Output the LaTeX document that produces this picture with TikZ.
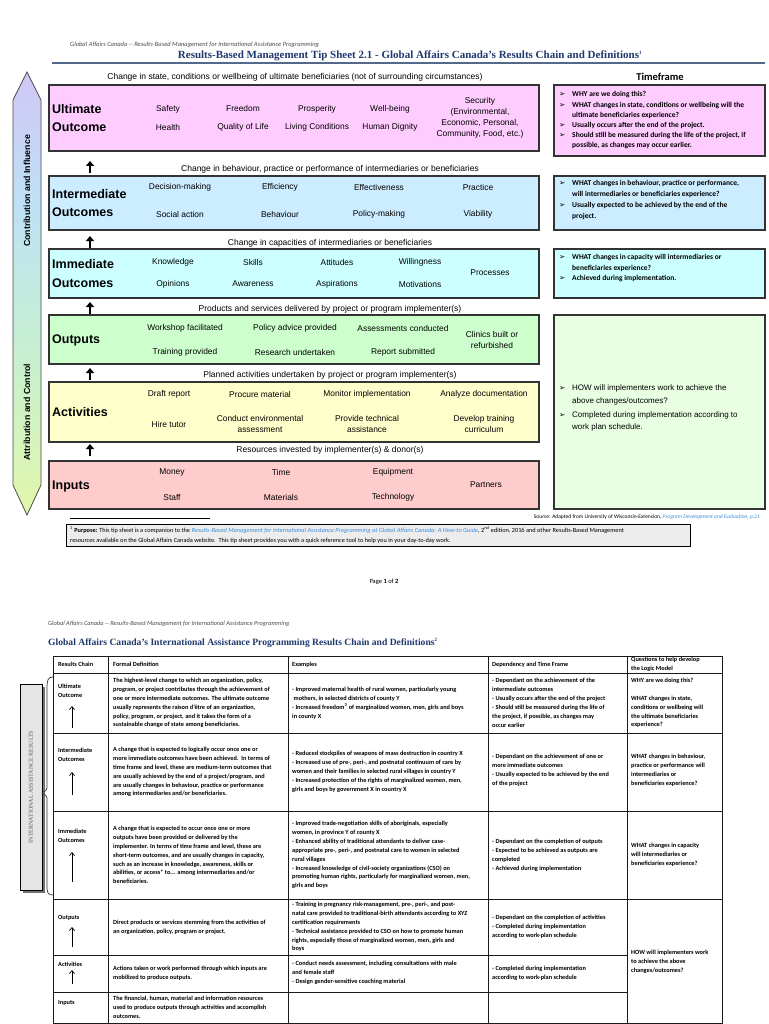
\documentclass[tikz,border=0pt]{standalone}
\usepackage{fontspec}
\setmainfont{Liberation Sans}
\newfontfamily\carlito{Carlito}
\newfontfamily\dejavu{DejaVu Sans}
\newfontfamily\titleserif{Liberation Serif}
\usetikzlibrary{arrows.meta}

\definecolor{ultpink}{RGB}{255,204,255}
\definecolor{interblue}{RGB}{204,236,255}
\definecolor{immcyan}{RGB}{204,255,255}
\definecolor{outgreen}{RGB}{204,255,204}
\definecolor{actyellow}{RGB}{255,255,204}
\definecolor{inpred}{RGB}{255,204,204}
\definecolor{howgreen}{RGB}{232,255,226}
\definecolor{titleblue}{RGB}{31,56,110}
\definecolor{rulecol}{RGB}{84,104,140}
\definecolor{linkblue}{RGB}{60,140,215}
\definecolor{shadeA}{RGB}{255,255,150}
\definecolor{shadeB}{RGB}{230,248,165}
\definecolor{shadeC}{RGB}{200,240,205}
\definecolor{shadeD}{RGB}{190,225,245}
\definecolor{shadeE}{RGB}{215,190,245}
\definecolor{shadeF}{RGB}{240,155,240}

\pgfdeclareverticalshading{chainshade}{100bp}{color(0bp)=(shadeA); color(22bp)=(shadeB); color(42bp)=(shadeC); color(60bp)=(shadeD); color(80bp)=(shadeE); color(100bp)=(shadeF)}

\newcommand{\bul}[1][13pt]{\makebox[#1][l]{\dejavu\fontsize{7.5}{7.5}\selectfont ➢}}
\newcommand{\hang}[1][13pt]{\hspace*{#1}}

\tikzset{
  chainbox/.style={draw=black!80, line width=1.1pt},
  boxlabel/.style={anchor=west, align=left, inner sep=0pt, font=\fontsize{12.5}{18}\selectfont\bfseries},
  item/.style={align=center, inner sep=0pt, font=\fontsize{8.4}{11.5}\selectfont},
  caption/.style={inner sep=0pt, font=\fontsize{8.5}{10}\selectfont},
  bigup/.style={-{Triangle[length=5pt,width=8pt]}, line width=2pt},
  timetext/.style={anchor=north west, align=left, inner sep=0pt, font=\carlito\bfseries\fontsize{7.5}{10.1}\selectfont},
  cell/.style={anchor=west, align=left, inner sep=0pt, font=\carlito\bfseries\fontsize{6.3}{8.9}\selectfont},
  tblline/.style={draw=black!90, line width=0.9pt},
  thinup/.style={-{Straight Barb[length=3pt,width=5pt]}, line width=0.7pt},
}

\begin{document}
\begin{tikzpicture}[x=1pt,y=-1pt]
    \fill[white] (0,0) rectangle (768,1024);
    \useasboundingbox (0,0) rectangle (768,1024);

    % page 1 header
    \node[anchor=west, inner sep=0pt, text=black!70, font=\carlito\itshape\fontsize{6.5}{7}\selectfont] (head1) at (70,45) {Global Affairs Canada -- Results-Based Management for International Assistance Programming};
    \node[inner sep=0pt, text=titleblue, font=\titleserif\bfseries\fontsize{11}{12}\selectfont] (title1) at (410,56) {Results-Based Management Tip Sheet 2.1 - Global Affairs Canada’s Results Chain and Definitions\textsuperscript{\fontsize{5}{5}\selectfont 1}};
    \draw[rulecol, line width=1.2pt] (52,63) -- (765,63);

    % side arrow
    \shade[shading=chainshade, draw=black!70, line width=0.8pt] (27,72) -- (41,100) -- (41,485) -- (27,515) -- (13,485) -- (13,100) -- cycle;
    \node[rotate=90, inner sep=0pt, font=\fontsize{8.8}{9}\selectfont\bfseries] (contrib) at (27,191) {Contribution and Influence};
    \node[rotate=90, inner sep=0pt, font=\fontsize{8.8}{9}\selectfont\bfseries] (attrib) at (27,412) {Attribution and Control};

    % ultimate outcome
    \node[caption] (cap1) at (295,77) {Change in state, conditions or wellbeing of ultimate beneficiaries (not of surrounding circumstances)};
    \draw[chainbox, fill=ultpink] (49,85) rectangle (539,151);
    \node[boxlabel] (ultlabel) at (52,118) {Ultimate\\Outcome};
    \node[item] (safety) at (168,109) {Safety};
    \node[item] (freedom) at (243,109) {Freedom};
    \node[item] (prosperity) at (317,109) {Prosperity};
    \node[item] (wellbeing) at (390,109) {Well-being};
    \node[item] (health) at (168,127) {Health};
    \node[item] (quality) at (243,127) {Quality of Life};
    \node[item] (living) at (317,127) {Living Conditions};
    \node[item] (dignity) at (390,127) {Human Dignity};
    \node[item, font=\fontsize{8.4}{10.8}\selectfont] (security) at (480,118) {Security\\(Environmental,\\Economic, Personal,\\Community, Food, etc.)};

    % intermediate outcomes
    \coordinate (up1s) at (90,173);
    \coordinate (up1e) at (90,161);
    \draw[bigup] (up1s) -- (up1e);
    \node[caption] (cap2) at (330,169) {Change in behaviour, practice or performance of intermediaries or beneficiaries};
    \draw[chainbox, fill=interblue] (49,176) rectangle (539,230);
    \node[boxlabel] (intlabel) at (52,203) {Intermediate\\Outcomes};
    \node[item] (decision) at (180,187) {Decision-making};
    \node[item] (efficiency) at (280,187) {Efficiency};
    \node[item] (effective) at (379,187) {Effectiveness};
    \node[item] (practice) at (478,187) {Practice};
    \node[item] (social) at (180,214) {Social action};
    \node[item] (behaviour) at (280,214) {Behaviour};
    \node[item] (policy) at (379,214) {Policy-making};
    \node[item] (viability) at (478,214) {Viability};

    % immediate outcomes
    \coordinate (up2s) at (90,248);
    \coordinate (up2e) at (90,236);
    \draw[bigup] (up2s) -- (up2e);
    \node[caption] (cap3) at (330,243) {Change in capacities of intermediaries or beneficiaries};
    \draw[chainbox, fill=immcyan] (49,249) rectangle (539,298);
    \node[boxlabel, font=\fontsize{12.5}{19.5}\selectfont\bfseries] (immlabel) at (52,273.5) {Immediate\\Outcomes};
    \node[item] (knowledge) at (173,262) {Knowledge};
    \node[item] (skills) at (253,262) {Skills};
    \node[item] (attitudes) at (337,262) {Attitudes};
    \node[item] (willing) at (420,262) {Willingness};
    \node[item] (opinions) at (173,284) {Opinions};
    \node[item] (awareness) at (253,284) {Awareness};
    \node[item] (aspirations) at (337,284) {Aspirations};
    \node[item] (motivations) at (420,284) {Motivations};
    \node[item] (processes) at (490,273) {Processes};

    % outputs
    \coordinate (up3s) at (90,314);
    \coordinate (up3e) at (90,302);
    \draw[bigup] (up3s) -- (up3e);
    \node[caption] (cap4) at (330,309) {Products and services delivered by project or program implementer(s)};
    \draw[chainbox, fill=outgreen] (49,315) rectangle (539,364);
    \node[boxlabel] (outlabel) at (52,340) {Outputs};
    \node[item] (workshop) at (185,328) {Workshop facilitated};
    \node[item] (advice) at (295,328) {Policy advice provided};
    \node[item] (assess) at (403,328) {Assessments conducted};
    \node[item] (training) at (185,352) {Training provided};
    \node[item] (research) at (295,352) {Research undertaken};
    \node[item] (report) at (403,352) {Report submitted};
    \node[item] (clinics) at (492,340) {Clinics built or\\refurbished};

    % activities
    \coordinate (up4s) at (90,380);
    \coordinate (up4e) at (90,368);
    \draw[bigup] (up4s) -- (up4e);
    \node[caption] (cap5) at (330,375) {Planned activities undertaken by project or program implementer(s)};
    \draw[chainbox, fill=actyellow] (49,382) rectangle (539,442);
    \node[boxlabel] (actlabel) at (52,412) {Activities};
    \node[item] (draft) at (169,394) {Draft report};
    \node[item] (procure) at (260,394) {Procure material};
    \node[item] (monitor) at (367,394) {Monitor implementation};
    \node[item] (analyze) at (484,394) {Analyze documentation};
    \node[item] (tutor) at (169,424) {Hire tutor};
    \node[item] (conduct) at (260,424) {Conduct environmental\\assessment};
    \node[item] (technical) at (367,424) {Provide technical\\assistance};
    \node[item] (develop) at (484,424) {Develop training\\curriculum};

    % inputs
    \coordinate (up5s) at (90,456);
    \coordinate (up5e) at (90,444);
    \draw[bigup] (up5s) -- (up5e);
    \node[caption] (cap6) at (330,450) {Resources invested by implementer(s) \& donor(s)};
    \draw[chainbox, fill=inpred] (49,461) rectangle (539,509);
    \node[boxlabel] (inplabel) at (52,486) {Inputs};
    \node[item] (money) at (172,472) {Money};
    \node[item] (time) at (281,472) {Time};
    \node[item] (equipment) at (393,472) {Equipment};
    \node[item] (staff) at (172,497) {Staff};
    \node[item] (materials) at (281,497) {Materials};
    \node[item] (technology) at (393,497) {Technology};
    \node[item] (partners) at (486,485) {Partners};

    % timeframe column
    \node[inner sep=0pt, font=\carlito\bfseries\fontsize{10.5}{11}\selectfont] (timehead) at (660,77) {Timeframe};
    \draw[chainbox, fill=ultpink] (554,85) rectangle (765,156);
    \node[timetext] (time1) at (559,91.5) {\bul WHY are we doing this?\\\bul WHAT changes in state, conditions or wellbeing will the\\\hang ultimate beneficiaries experience?\\\bul Usually occurs after the end of the project.\\\bul Should still be measured during the life of the project, if\\\hang possible, as changes may occur earlier.};
    \draw[chainbox, fill=interblue] (554,176) rectangle (765,230);
    \node[timetext, font=\carlito\bfseries\fontsize{7.5}{10.7}\selectfont] (time2) at (559,180.5) {\bul WHAT changes in behaviour, practice or performance,\\\hang will intermediaries or beneficiaries experience?\\\bul Usually expected to be achieved by the end of the\\\hang project.};
    \draw[chainbox, fill=immcyan] (554,249) rectangle (765,298);
    \node[timetext, font=\carlito\bfseries\fontsize{7.5}{10.5}\selectfont] (time3) at (559,254.5) {\bul WHAT changes in capacity will intermediaries or\\\hang beneficiaries experience?\\\bul Achieved during implementation.};
    \draw[chainbox, fill=howgreen] (554,315) rectangle (765,509);
    \node[timetext, font=\fontsize{8}{12.3}\selectfont] (time4) at (559,385) {\bul HOW will implementers work to achieve the\\\hang above changes/outcomes?\\[1.5pt]\bul Completed during implementation according to\\\hang work plan schedule.};

    % footnotes of page 1
    \draw[line width=0.6pt] (70,518) -- (210,518);
    \node[anchor=east, inner sep=0pt, font=\carlito\fontsize{5.5}{6}\selectfont] (source) at (760,517) {Source: Adapted from University of Wisconsin-Extension, \textcolor{linkblue}{\itshape Program Development and Evaluation, p.21}};
    \draw[fill=black!7, line width=0.8pt] (66,524) rectangle (690,546);
    \node[anchor=west, align=left, inner sep=0pt, font=\carlito\fontsize{6.3}{9.6}\selectfont] (purpose) at (70,535) {\textsuperscript{1} \textbf{Purpose:} This tip sheet is a companion to the \textcolor{linkblue}{\itshape Results-Based Management for International Assistance Programming at Global Affairs Canada: A How-to Guide}, 2\textsuperscript{nd} edition, 2016 and other Results-Based Management\\resources available on the Global Affairs Canada website.\ \ This tip sheet provides you with a quick reference tool to help you in your day-to-day work.};
    \node[inner sep=0pt, font=\carlito\fontsize{6.5}{7}\selectfont] (pagenum) at (384,582) {Page \textbf{1} of \textbf{2}};

    % page 2 header
    \node[anchor=west, inner sep=0pt, text=black!70, font=\carlito\itshape\fontsize{6.3}{7}\selectfont] (head2) at (48,624) {Global Affairs Canada -- Results-Based Management for International Assistance Programming};
    \node[anchor=west, inner sep=0pt, text=titleblue, font=\titleserif\bfseries\fontsize{9.6}{10}\selectfont] (title2) at (48,643) {Global Affairs Canada’s International Assistance Programming Results Chain and Definitions\textsuperscript{\fontsize{5}{5}\selectfont 2}};

    % side label and brace
    \fill[black!55] (22.5,686.5) rectangle (44.5,892.5);
    \draw[fill=black!10, line width=0.8pt] (20,684) rectangle (42,890);
    \node[rotate=90, inner sep=0pt, text=black!65, font=\titleserif\fontsize{6}{6}\selectfont] (intllabel) at (31,787) {INTERNATIONAL ASSISTANCE RESULTS};
    \draw[black!80, line width=0.7pt] (53,677) .. controls (48,677) and (47,680) .. (47,688) -- (47,785) .. controls (47,790) .. (42,793) .. controls (47,796) .. (47,801) -- (47,886) .. controls (47,893) and (48,895) .. (53,895);

    % table grid
    \draw[tblline] (53,656) rectangle (722,1023);
    \draw[tblline] (53,673) -- (722,673);
    \draw[tblline] (53,733) -- (722,733);
    \draw[tblline] (53,811) -- (722,811);
    \draw[tblline] (53,899) -- (722,899);
    \draw[tblline] (53,955) -- (627,955);
    \draw[tblline] (53,992) -- (627,992);
    \draw[tblline] (108,656) -- (108,1023);
    \draw[tblline] (288,656) -- (288,1023);
    \draw[tblline] (488,656) -- (488,1023);
    \draw[tblline] (627,656) -- (627,1023);

    % header row
    \node[cell] (hchain) at (58,664.5) {Results Chain};
    \node[cell] (hdef) at (113,664.5) {Formal Definition};
    \node[cell] (hex) at (292,664.5) {Examples};
    \node[cell] (hdep) at (492,664.5) {Dependency and Time Frame};
    \node[cell] (hq) at (631,664.5) {Questions to help develop\\the Logic Model};

    % results chain column
    \node[cell] (rcult) at (58,690.5) {Ultimate\\Outcome};
    \draw[thinup] (72,728) -- (72,706);
    \node[cell] (rcint) at (58,754.5) {Intermediate\\Outcomes};
    \draw[thinup] (72,795) -- (72,772);
    \node[cell] (rcimm) at (58,835.5) {Immediate\\Outcomes};
    \draw[thinup] (72,882) -- (72,852);
    \node[cell] (rcout) at (58,918) {Outputs};
    \draw[thinup] (72,947) -- (72,927);
    \node[cell] (rcact) at (58,964) {Activities};
    \draw[thinup] (72,984) -- (72,970);
    \node[cell] (rcinp) at (58,1003) {Inputs};

    % formal definitions
    \node[cell] (defult) at (113,703) {The highest-level change to which an organization, policy,\\program, or project contributes through the achievement of\\one or more intermediate outcomes. The ultimate outcome\\usually represents the raison d’être of an organization,\\policy, program, or project, and it takes the form of a\\sustainable change of state among beneficiaries.};
    \node[cell] (defint) at (113,772) {A change that is expected to logically occur once one or\\more immediate outcomes have been achieved.\ \ In terms of\\time frame and level, these are medium-term outcomes that\\are usually achieved by the end of a project/program, and\\are usually changes in behaviour, practice or performance\\among intermediaries and/or beneficiaries.};
    \node[cell] (defimm) at (113,855) {A change that is expected to occur once one or more\\outputs have been provided or delivered by the\\implementer. In terms of time frame and level, these are\\short-term outcomes, and are usually changes in capacity,\\such as an increase in knowledge, awareness, skills or\\abilities, or access* to... among intermediaries and/or\\beneficiaries.};
    \node[cell] (defout) at (113,927) {Direct products or services stemming from the activities of\\an organization, policy, program or project.};
    \node[cell] (defact) at (113,973) {Actions taken or work performed through which inputs are\\mobilized to produce outputs.};
    \node[cell] (definp) at (113,1007.5) {The financial, human, material and information resources\\used to produce outputs through activities and accomplish\\outcomes.};

    % examples
    \node[cell] (exult) at (292,703) {- Improved maternal health of rural women, particularly young\\\ mothers, in selected districts of county Y\\- Increased freedom\textsuperscript{3} of marginalized women, men, girls and boys\\in county X};
    \node[cell] (exint) at (292,772) {- Reduced stockpiles of weapons of mass destruction in country X\\- Increased use of pre-, peri-, and postnatal continuum of care by\\women and their families in selected rural villages in country Y\\- Increased protection of the rights of marginalized women, men,\\girls and boys by government X in country X};
    \node[cell] (eximm) at (292,855) {- Improved trade-negotiation skills of aboriginals, especially\\women, in province Y of county X\\- Enhanced ability of traditional attendants to deliver case-\\appropriate pre-, peri-, and postnatal care to women in selected\\rural villages\\- Increased knowledge of civil-society organizations (CSO) on\\promoting human rights, particularly for marginalized women, men,\\girls and boys};
    \node[cell] (exout) at (292,927) {- Training in pregnancy risk-management, pre-, peri-, and post-\\natal care provided to traditional-birth attendants according to XYZ\\certification requirements\\- Technical assistance provided to CSO on how to promote human\\rights, especially those of marginalized women, men, girls and\\boys};
    \node[cell] (exact) at (292,973) {- Conduct needs assessment, including consultations with male\\and female staff\\- Design gender-sensitive coaching material};

    % dependency and time frame
    \node[cell] (depult) at (492,703) {- Dependant on the achievement of the\\intermediate outcomes\\- Usually occurs after the end of the project\\- Should still be measured during the life of\\the project, if possible, as changes may\\occur earlier};
    \node[cell] (depint) at (492,770) {- Dependant on the achievement of one or\\more immediate outcomes\\- Usually expected to be achieved by the end\\of the project};
    \node[cell] (depimm) at (492,855) {- Dependant on the completion of outputs\\- Expected to be achieved as outputs are\\completed\\- Achieved during implementation};
    \node[cell] (depout) at (492,927) {- Dependant on the completion of activities\\- Completed during implementation\\according to work-plan schedule};
    \node[cell] (depact) at (492,973) {- Completed during implementation\\according to work-plan schedule};

    % questions
    \node[cell] (qult) at (631,703) {WHY are we doing this?\\[8.9pt]WHAT changes in state,\\conditions or wellbeing will\\the ultimate beneficiaries\\experience?};
    \node[cell] (qint) at (631,770) {WHAT changes in behaviour,\\practice or performance will\\intermediaries or\\beneficiaries experience?};
    \node[cell] (qimm) at (631,855) {WHAT changes in capacity\\will intermediaries or\\beneficiaries experience?};
    \node[cell] (qhow) at (631,962) {HOW will implementers work\\to achieve the above\\changes/outcomes?};
\end{tikzpicture}
\end{document}
